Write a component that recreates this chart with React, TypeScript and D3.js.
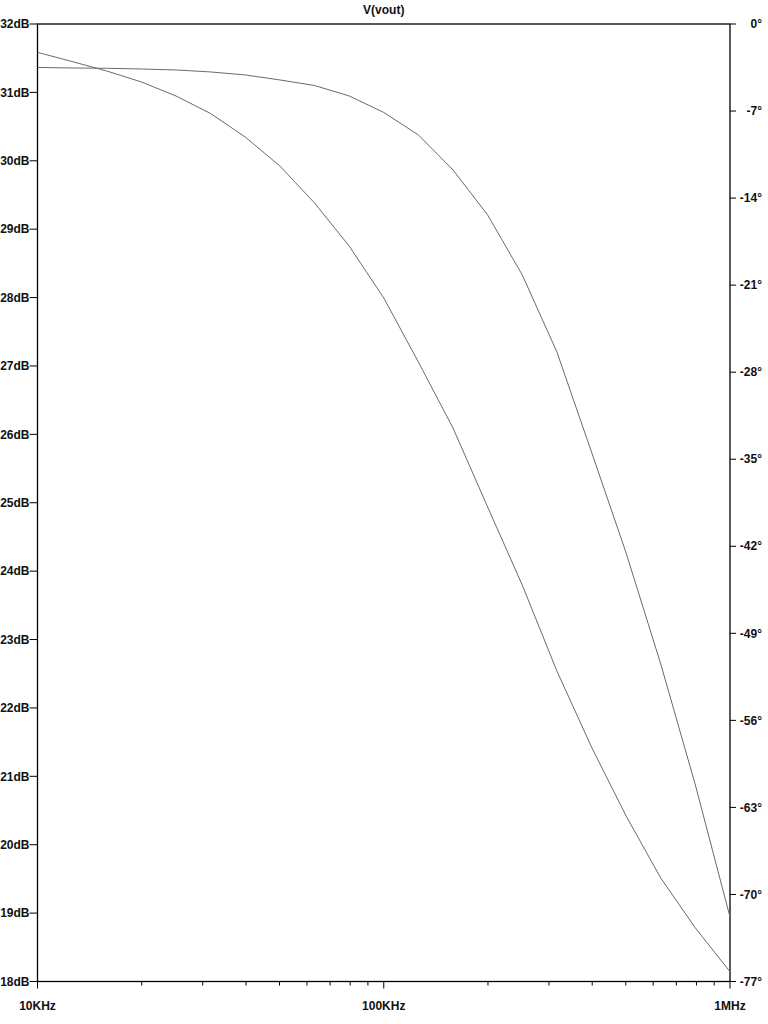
import * as d3 from "d3";

// frequency points (Hz), 10 per decade
const freqs = [
    10000, 12589, 15849, 19953, 25119, 31623, 39811, 50119, 63096, 79433,
    100000, 125893, 158489, 199526, 251189, 316228, 398107, 501187, 630957, 794328, 1000000,
];

// V(vout) magnitude in dB
const magDb = [
    31.365, 31.357, 31.353, 31.342, 31.328, 31.299, 31.255, 31.182, 31.101, 30.948,
    30.707, 30.378, 29.866, 29.208, 28.331, 27.205, 25.742, 24.265, 22.642, 20.873, 18.943,
];

// V(vout) phase in degrees
const phaseDeg = [
    -2.28, -3.02, -3.78, -4.66, -5.79, -7.2, -9.09, -11.42, -14.39, -17.85,
    -22.03, -27.18, -32.49, -38.84, -45.12, -52.03, -58.14, -63.69, -68.68, -72.7, -76.21,
];

const dbTicks = [18, 19, 20, 21, 22, 23, 24, 25, 26, 27, 28, 29, 30, 31, 32];
const degTicks = [0, -7, -14, -21, -28, -35, -42, -49, -56, -63, -70, -77];
const freqLabels = [
    {f: 10000, label: "10KHz"},
    {f: 100000, label: "100KHz"},
    {f: 1000000, label: "1MHz"},
];
const minorFreqs = [
    20000, 30000, 40000, 50000, 60000, 70000, 80000, 90000,
    200000, 300000, 400000, 500000, 600000, 700000, 800000, 900000,
];

const width = 768;
const height = 1024;
const marginLeft = 37.5;
const marginRight = 38;
const marginTop = 24;
const marginBottom = 42.5;

const font = "'Liberation Sans', Arial, sans-serif";

export default function App() {
    const x = d3.scaleLog([10000, 1000000], [marginLeft, width - marginRight]);
    const yDb = d3.scaleLinear([18, 32], [height - marginBottom, marginTop]);
    const yDeg = d3.scaleLinear([-77, 0], [height - marginBottom, marginTop]);

    const x0 = marginLeft;
    const x1 = width - marginRight;
    const y0 = marginTop;
    const y1 = height - marginBottom;

    const magLine = d3.line<number>()
        .x((_, i) => x(freqs[i]))
        .y(d => yDb(d));
    const phaseLine = d3.line<number>()
        .x((_, i) => x(freqs[i]))
        .y(d => yDeg(d));

    return <div style={{position: "absolute", left: 0, top: 0}}>
        <svg width={width} height={height} viewBox={`0 0 ${width} ${height}`}
             style={{display: "block", background: "#fff"}}>
            <g fontFamily={font} fontWeight="bold" fontSize={12} fill="#111">
                <text x={(x0 + x1) / 2} y={14} textAnchor="middle">V(vout)</text>

                {dbTicks.map(t => <g key={"db" + t}>
                    <line x1={x0 - 8} x2={x0} y1={yDb(t)} y2={yDb(t)} stroke="#000"/>
                    <text x={x0 - 8} y={yDb(t)} dy="0.35em" textAnchor="end">{t}dB</text>
                </g>)}

                {degTicks.map(t => <g key={"deg" + t}>
                    <line x1={x1} x2={x1 + 6} y1={yDeg(t)} y2={yDeg(t)} stroke="#000"/>
                    <text x={762} y={yDeg(t)} dy="0.35em" textAnchor="end">{t}°</text>
                </g>)}

                {minorFreqs.map(f =>
                    <line key={"mf" + f} x1={x(f)} x2={x(f)} y1={y1} y2={y1 + 4} stroke="#000"/>)}

                {freqLabels.map(d => <g key={d.label}>
                    <line x1={x(d.f)} x2={x(d.f)} y1={y1} y2={y1 + 7} stroke="#000"/>
                    <text x={x(d.f)} y={1010} textAnchor="middle">{d.label}</text>
                </g>)}
            </g>

            <rect x={x0} y={y0} width={x1 - x0} height={y1 - y0} fill="none" stroke="#000" strokeWidth={1.3}/>

            <path d={magLine(magDb) ?? ""} fill="none" stroke="#6a6a6a" strokeWidth={1}/>
            <path d={phaseLine(phaseDeg) ?? ""} fill="none" stroke="#6a6a6a" strokeWidth={1}/>
        </svg>
    </div>
}
